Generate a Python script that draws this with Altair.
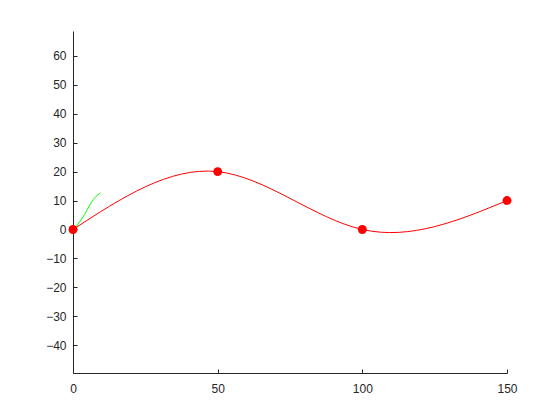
import altair as alt
import pandas as pd

# knots of the red spline
knot_x = [0, 50, 100, 150]
knot_y = [0, 20, 0, 10]

# short green curve near the origin
green_x = [0, 1, 2, 3, 4, 5, 6, 7, 8, 9, 9.5]
green_y = [0, 0.9, 2.2, 3.6, 5.2, 7.0, 8.8, 10.3, 11.5, 12.3, 12.7]

x_ticks = [0, 50, 100, 150]
y_ticks = [-40, -30, -20, -10, 0, 10, 20, 30, 40, 50, 60]
x_domain = [0, 150]
y_domain = [-49.6, 68.6]

AX = "#262626"
knots = pd.DataFrame({"x": knot_x, "y": knot_y})
green = pd.DataFrame({"x": green_x, "y": green_y})

xs = alt.Scale(domain=x_domain, nice=False, zero=False)
ys = alt.Scale(domain=y_domain, nice=False, zero=False)

lab = dict(grid=False, ticks=False, title=None, domainColor=AX, labelColor=AX,
           labelFont="Liberation Sans", labelFontSize=12, labelFlush=False)

curve = alt.Chart(knots).mark_line(color="#ff0000", strokeWidth=1, interpolate="natural").encode(
    x=alt.X("x:Q", scale=xs, axis=alt.Axis(values=x_ticks, labelPadding=10, **lab)),
    y=alt.Y("y:Q", scale=ys, axis=alt.Axis(values=y_ticks, labelPadding=7, **lab)),
)

tangent = alt.Chart(green).mark_line(color="#00ff00", strokeWidth=1, interpolate="monotone").encode(
    x=alt.X("x:Q", scale=xs, axis=None),
    y=alt.Y("y:Q", scale=ys, axis=None),
)

dots = alt.Chart(knots).mark_circle(color="#ff0000", size=80, opacity=1).encode(
    x=alt.X("x:Q", scale=xs, axis=None),
    y=alt.Y("y:Q", scale=ys, axis=None),
)

# inward-pointing ticks: opposite-side axes pulled back onto the plot edges
tk = dict(grid=False, labels=False, domain=False, title=None, tickColor=AX, tickSize=4)
inner = alt.Chart(knots).mark_point(opacity=0).encode(
    x=alt.X("x:Q", scale=xs, axis=alt.Axis(orient="top", offset=-342, values=x_ticks, **tk)),
    y=alt.Y("y:Q", scale=ys, axis=alt.Axis(orient="right", offset=-434, values=y_ticks, **tk)),
)

chart = alt.layer(curve, tangent, dots, inner).resolve_axis(
    x="independent", y="independent"
).properties(
    width=434,
    height=342,
    autosize=alt.AutoSizeParams(type="none"),
    padding={"left": 65, "top": 23, "right": 30, "bottom": 35},
    background="white",
).configure_view(strokeWidth=0)

chart.save("out.html", embed_options={"renderer": "svg", "actions": False})
